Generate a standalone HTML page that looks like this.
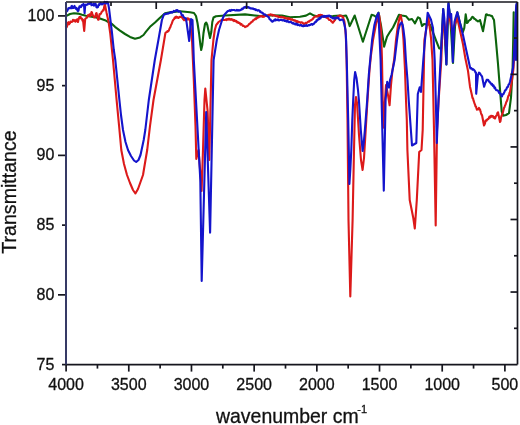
<!DOCTYPE html>
<html><head><meta charset="utf-8"><title>IR spectrum</title>
<style>html,body{margin:0;padding:0;background:#fff;}svg{display:block;filter:blur(0.3px);}</style>
</head><body>
<svg width="520" height="425" viewBox="0 0 520 425">
<g fill="none" stroke-width="2.1" stroke-linejoin="round" stroke-linecap="round">
<polyline stroke="#0c640c" points="66,16.1 70,14 74,13.2 78,13.6 82,14.8 86,15.7 90,16.5 95,17.3 100,18.5 105,20.2 110,23 112,23.9 115,26.8 120,30.7 125,34 130,36.9 135,38.8 140,37.4 143.5,35 146,31.6 150,26.8 155,22.5 160,17.7 165,13.4 170,12.4 180,11.3 190,12.3 194,13 196,16 197.5,23 199,33 200.3,44 201.2,50 202.3,45 203.5,33 205,24 206.2,22.5 207.3,25 208.5,31 210,38 211.3,32 212.3,22 213.5,17.5 216,16.2 225,15.5 245,14.4 260,16.1 270,15.3 282,15.6 290,17.3 300,16.7 306,15.6 310,13.3 314,15.6 318,16.5 325,16.2 333,16 340,15.5 343,16 346,15.5 348,20 349.7,26.1 354.7,15.5 362.9,41.7 371.6,14.8 374,15.5 376,17 378.5,12.7 381,25.4 384.1,46.6 387,36.7 390,31.8 393,27.5 396,21.2 399,14.8 402,15.5 406,16.2 409,19.8 412,19 415,23.3 418,17.3 420,18.4 422,26.1 424,24 430,24.7 433,32.5 436.4,41.3 439.2,48.4 441.2,48.4 443.2,9 446.4,64.5 448.5,3.5 450.3,17.6 453,63 455,26.5 457.3,12.3 460,23 460.7,25.04 461.4,27.54 462.1,29.65 462.8,32 463.55,30.08 464.3,28 465.7,14.4 467,23 467.75,22.35 468.5,21.15 469.25,20.36 470,20 470.83,19.2 471.67,17.67 472.5,16.8 473.33,17.32 474.17,18.66 475,19 475.75,19.58 476.5,20.47 477.25,20.78 478,21.4 479,20.81 480,20 483,31.3 486,14.5 486.8,14.38 487.6,14.93 488.4,15.27 489.2,15.16 490,15.3 491,15.84 492,16 493,18.14 494,20 496,41.3 498,64 501.7,111.4 503,115.8 506,115 509,113.2 511,97.3 512.5,72.6 513.2,40 513.7,12.2"/>
<polyline stroke="#dc1a1a" points="66,26.4 66.5,27.33 67,26.67 67.5,23.02 68,23.9 68.5,22.14 69,24.34 69.5,23.65 70,23.08 70.5,21.5 71,21.8 71.5,21.96 72,21.76 72.5,21.48 73,19.84 73.5,20.56 74,20.24 74.5,21.16 75,20.2 75.5,21.72 76,21.41 76.5,19.87 77,19.37 77.5,19.4 78,22 78.5,19.5 79,18.25 79.5,16.99 80,18.1 80.5,16.78 81,18.55 81.5,18.33 82,18.83 82.5,20.85 83,19.8 84.2,30.9 85.2,19 86,18.1 86.5,17.85 87,17.64 87.5,16.2 88,15.15 88.5,15.84 89,16.1 89.5,14.26 90,14.93 90.5,16 91,14.29 91.5,12.02 92,12.5 92.5,14.74 93,15.31 93.5,16 94,17.48 94.5,17 95,16.89 95.5,15.99 96,13.5 96.5,13 98,19.5 98.5,19.76 99,18.32 99.5,14.22 100,14 100.5,14.26 101,13.53 101.5,12.07 102,11.7 102.5,11 103,9.97 103.5,10.44 104,8 104.8,3.7 106.5,12.4 108.5,21.4 110.2,33 113,60 116.6,100 119,125 121.3,150 124,164 127,175 130,183 133,190 135.4,193.5 138,189 140.5,182 143,175 145,163 147.2,150 150,126 153.5,100 160.9,60 165.4,33 165.95,32.5 166.5,32 167,32.06 167.5,31 168,31.34 168.5,30.96 169,30 169.5,28.7 170,27.59 170.5,26.84 171,25 171.5,24.21 172,22.78 172.5,21.31 173,20.35 173.5,19.5 174.07,19.1 174.65,17.68 175.23,18.05 175.8,16.8 176.35,16.65 176.9,17.73 177.45,17.06 178,17.5 178.5,17.97 179,17.46 179.5,17.01 180,16.86 180.5,16.88 181,16.5 181.5,17.22 182,17.44 182.5,17.89 183,18.92 183.5,19.5 184,20.21 184.5,19.87 185,19.21 185.5,20.35 186,20 186.5,19.92 187,19.77 187.5,18.37 188,18.4 188.5,19.27 189,18.83 189.5,20.19 190,20.5 192,40 193.8,80 195.5,126 196.3,159 198.5,150 200.5,175 201.6,191 203,150 204.5,100 205.3,88.5 207.6,111 209.3,160 211.5,60 213.4,40 214.8,30 216.2,25 218.6,22 221.4,20 225,20 225.5,19.6 226,19.42 226.5,20.08 227,19.03 227.5,19.4 228,19.67 228.5,18.82 229,19 229.5,18.8 230,19.76 230.5,19.36 231,19.86 231.5,19.19 232,19.73 232.5,19.66 233,20.41 233.5,19.85 234,21.05 234.5,20.08 235,20.8 235.5,21.36 236,20.79 236.5,21.35 237,22.3 237.5,21.79 238,22.1 238.5,22.99 239,22.9 239.5,22.77 240,23.6 240.5,24.54 241,23.88 241.5,24.09 242,24.81 242.5,25.49 243,25.99 243.5,25.59 244,26.2 244.5,26.19 245,27.1 245.5,26.69 246,26.72 246.5,26.34 247,26.18 247.5,25.66 248,25.43 248.5,24.9 249,24.27 249.5,23.62 250,23.6 250.5,23.33 251,22.46 251.5,21.74 252,21.7 252.5,21.75 253,20.39 253.5,20.48 254,19.79 254.5,19.48 255,19 255.5,18.34 256,19.09 256.5,18.02 257,18.21 257.5,17.75 258,17.04 258.5,17.46 259,16.73 259.5,16.4 260,16.7 260.5,16.08 261,16.17 261.5,16.04 262,16.62 262.5,16.41 263,16.92 263.5,16.8 264,16.81 264.5,15.84 265,16.1 265.5,15.89 266,15.52 266.5,15.79 267,15.69 267.5,15.76 268,15.51 268.5,14.83 269,14.89 269.5,14.87 270,14.7 270.5,14.22 271,14.38 271.5,14.94 272,14.7 272.5,15.55 273,15.09 273.5,15.04 274,15.25 274.5,15.43 275,15.53 275.5,16.01 276,16.1 276.5,16.16 277,16.07 277.5,16.57 278,16.15 278.5,17.09 279,17.26 279.5,17.07 280,16.82 280.5,17.01 281,17.2 281.5,16.66 282,17.3 282.5,17.31 283,17.54 283.5,17.24 284,17.24 284.5,18.19 285,17.78 285.5,18.07 286,18.66 286.5,18.39 287,18.11 287.5,19.05 288,18.42 288.5,18.1 289,19.01 289.5,18.42 290,19 290.5,18.95 291,19.77 291.5,19.75 292,19.14 292.5,19.85 293,19.98 293.5,20.25 294,20.1 294.5,20.74 295,20.3 295.5,20.73 296,21.02 296.5,21.88 297,21.03 297.5,22.02 298,21.9 298.5,21.65 299,22.23 299.5,22.13 300,22.34 300.5,22.81 301,22.5 301.5,22.3 302,22.42 302.5,22.49 303,23.53 303.5,23.4 304,23.91 304.5,23.71 305,23.6 305.5,22.75 306,23.23 306.5,23.09 307,22.75 307.5,22.2 308,21.75 308.5,21.59 309,21.72 309.5,20.8 310,20.8 310.5,20.42 311,19.95 311.5,20.12 312,19.53 312.5,19.27 313,18.74 313.5,17.69 314,17.2 314.5,17.1 315,16.7 315.5,16.24 316,16.27 316.5,16.4 317,16.52 317.5,15.95 318,16.06 318.5,15.03 319,15.17 319.5,15.77 320,15 320.5,14.73 321,15.2 321.5,14.93 322,15.1 322.5,16.22 323,16.49 323.5,16.23 324,15.75 324.5,16.11 325,16.5 325.5,16.53 326,17.4 326.5,17.77 327,17.83 327.5,18.28 328,18.13 328.5,19 329,19.84 329.5,19.96 330,20 330.5,19.95 331,20.89 331.5,21.56 332,21.44 332.5,22.64 333,22.6 333.5,21.79 334,21.31 334.5,20.18 335,20.13 335.5,19.11 336,18 336.5,17.78 337,16.95 337.5,16.99 338,16.19 338.5,16.55 339,16.58 339.5,15.43 340,15.5 340.5,15.68 341,15.81 341.5,15.89 342,16.42 342.5,16.86 343,16.5 343.5,18.58 344,20.13 344.5,22 345.8,35 346.6,60 347.5,120 348.5,220 350.3,296.5 352.6,220 354,150 355,105 356,97 357,103 359,135 361,160 362.6,170 364,158 365.7,130 367.5,100 369.5,70 371,55 373,40 376,24 379.2,15.5 381,30 382,60 383.2,127.6 385,100 386,85 388,95 389.6,105.3 391,85 392.5,70 394.1,60 396,40 398,25 399.5,18 400.7,15.3 402,22 403.5,40 405,70 406,100 406.8,120 407.4,150 409.7,200 413.3,218 414.8,228.5 416.8,200 419.2,152 421.5,150 422.7,130 424.4,40 428.4,17 430,29.7 431,38 432.5,60 434,130 435.7,225.5 437,130 438.6,101 441.3,60 442,40 443.5,16 444.5,25 445.5,45 446.5,30 448.5,14 450.5,22 452.5,35 454.5,25 457.3,18.3 460,30.6 463,44.3 465.3,58 468,70.9 470,86.7 472,95.6 472.5,97.99 473,98.19 473.5,100.49 474,101.78 474.5,103.46 475,104.4 475.5,106.43 476,106.5 476.5,108.62 477,109.7 477.5,109.06 478,109.13 478.5,109.3 479,107.9 479.5,109.35 480,109.29 480.5,111.38 481,113.06 481.5,114.58 482,115 484,125.5 484.5,124.5 485,123.53 485.5,120.63 486,120.3 486.5,120.74 487,119.86 487.5,119.16 488,119.31 488.5,118.82 489,117.6 489.5,116.5 490,117.63 490.5,117.23 491,115.8 491.5,116.59 492,115.8 492.5,116.42 493,116.08 493.5,117.76 494,116.88 494.5,118.27 495,118.5 495.5,117.34 496,115.94 496.5,115.53 497,114.3 497.5,112.74 498,112.3 500,122 500.5,121.18 501,117.65 501.5,115.76 502,115 502.5,113.2 503,112.12 503.5,109.99 504,107.9 504.5,107.24 505,105.54 505.5,104.75 506,102.9 506.5,101.6 507,100.9 507.5,99.42 508,96.99 508.5,95.61 509,95.47 509.5,92.83 510,92 512,80 513.5,68 514.5,50 515.3,30 516,15"/>
<polyline stroke="#1414cc" points="66,11.5 66.5,9.88 67,11.27 67.5,10.44 68,9.1 68.5,8.09 69,8.44 69.5,7.98 70,7.8 70.5,8.09 71,8.34 71.5,6.26 72,5.95 72.5,8.07 73,7 73.5,6.91 74,7.93 74.5,5.91 75,7.4 75.5,7.65 76,8.82 76.5,7.84 77,9 77.5,10.75 78,11.12 78.5,10.5 79,7.75 79.5,6.3 80,6.2 80.5,6.18 81,7.16 81.5,5.47 82,4.87 82.5,5.32 83,5.4 83.5,3.88 84,5 84.6,13.2 85.2,5.5 85.8,4.49 86.4,4.86 87,4.8 87.5,4.62 88,3.72 88.5,3.55 89,3.35 89.5,3.85 90,3.8 90.5,3.38 91,2.79 91.5,5.25 92,4.62 92.5,5.03 93,4.8 93.5,3.67 94,5.68 94.5,5.06 95,3.8 95.5,3.66 96,5.18 96.5,7.2 97,7.5 97.5,7.27 98,7.07 98.5,4.81 99,4.2 99.5,4.87 100,4.18 100.5,2.9 101,3.2 101.5,3.5 102,4.37 102.5,4.32 103,3.4 103.5,3.29 104,3.4 104.5,1.72 105,2.9 105.5,2.15 106,3.67 106.5,2.56 107,1.85 107.5,2.87 108,2.7 109,8.2 110,16.5 111,24.7 112,33 113.8,50 115.3,60 119.4,100 121,115 123,130 125.5,142 128,150 131,156 134,160.5 136.2,162 138.5,160 140.5,155 142,148 143.7,140 145.3,130 148.8,100 154.8,60 158.4,40 161.9,20 164,14.5 165,14 165.5,14.18 166,14.04 166.5,13.52 167,13.51 167.5,13.51 168,13.79 168.5,13.33 169,13.05 169.5,13.09 170,13 170.53,12.11 171.07,11.89 171.6,12.58 172.13,12.74 172.67,11.96 173.2,11.45 173.73,10.91 174.27,11.14 174.8,11.57 175.33,11.05 175.87,10.49 176.4,10.2 176.91,10.89 177.43,10.2 177.94,10.78 178.46,11.58 178.97,11.24 179.49,11.26 180,11.5 180.6,12.18 181.2,13.57 181.8,15.14 182.4,15.5 182.91,15.22 183.43,16.73 183.94,17.19 184.46,17.7 184.97,17.91 185.49,18.42 186,18.4 189.2,41 191,19 192.5,20 193.8,60 200.3,180 201.7,281 206.2,112 210.1,232.6 213.6,60 216.8,40 219,30 222.1,20 224.2,15 227.8,11 228.34,10.91 228.89,10.85 229.43,10.58 229.98,10.02 230.52,10.89 231.07,10.42 231.61,9.86 232.16,10.12 232.7,10 233.23,10.04 233.76,9.95 234.29,10 234.82,10.29 235.35,10.45 235.88,10.49 236.41,10.37 236.94,9.91 237.47,10.22 238,10.6 238.5,10.03 239,10.33 239.5,10.48 240,10.22 240.5,10.04 241,9.5 241.5,9.62 242,8.69 242.5,9.13 243,8.67 243.5,7.7 244,7.36 244.5,7.1 245,7.73 245.5,6.86 246,6.9 246.5,6.58 247,7.35 247.5,7.16 248,6.98 248.5,7.24 249,7.83 249.5,7.55 250,7.83 250.5,8.5 251,8.35 251.5,8.34 252,8.7 252.5,8.81 253,8.41 253.5,8.99 254,9.17 254.5,9.03 255,9.08 255.5,10.17 256,9.85 256.5,9.63 257,10.24 257.5,10.64 258,10.4 258.5,10.11 259,10.4 259.5,10.85 260,11.82 260.5,11.44 261,12.39 261.5,12.64 262,12.77 262.5,12.67 263,13.3 263.5,14.21 264,14.34 264.5,14.34 265,14.33 265.5,15.18 266,15.21 266.5,15.77 267,15.81 267.5,16.52 268,16.7 268.5,16.77 269,17.66 269.5,19.06 270,19.55 270.5,19.47 271,20.73 271.5,20.67 272,21.5 272.5,21.79 273,21.32 273.5,20.69 274,20.25 274.5,19.72 275,20.53 275.5,19.28 276,19.6 276.5,20.03 277,20.25 277.5,19.83 278,19.41 278.5,20.29 279,20.47 279.5,20.19 280,20.01 280.5,19.9 281,19.92 281.5,19.8 282,20.2 282.5,20.52 283,20.33 283.5,20.15 284,20.15 284.5,20.93 285,20.59 285.5,20.94 286,20.84 286.5,21.6 287,21.74 287.5,20.79 288,21.12 288.5,21.37 289,22.27 289.5,22.13 290,21.9 290.5,21.89 291,21.92 291.5,22.65 292,23.03 292.5,23.32 293,22.8 293.5,23.63 294,23.57 294.5,23.51 295,24.3 295.5,23.58 296,24.35 296.5,23.76 297,24.04 297.5,25.11 298,24.8 298.5,24.54 299,25.28 299.5,25.18 300,25.55 300.5,25.07 301,25.12 301.5,25.15 302,25.93 302.5,25.7 303,26.2 303.5,26.21 304,25.39 304.5,25.98 305,26 305.5,25.41 306,25.22 306.5,25.15 307,25.99 307.5,25.78 308,25.72 308.5,25.02 309,25.24 309.5,25.33 310,24.73 310.5,24.85 311,24.32 311.5,24.04 312,24.15 312.5,24.78 313,24.2 313.5,23.82 314,23.79 314.5,22.77 315,22.09 315.5,22.24 316,21.83 316.5,20.39 317,20.72 317.5,19.57 318,19.6 318.5,18.78 319,19.34 319.5,17.96 320,17.84 320.5,18.37 321,17.33 321.5,16.6 322,16.7 322.5,16.23 323,16.24 323.5,16.77 324,15.92 324.5,16.82 325,16.1 325.5,16.74 326,16.1 326.5,16.6 327,15.88 327.5,15.84 328,16.12 328.5,15.68 329,16.36 329.5,15.64 330,16.2 330.5,15.98 331,17.51 331.5,17.05 332,17.78 332.5,17.97 333,18.4 333.5,18.09 334,17.7 334.5,18.63 335,18.6 335.5,18.51 336,17.39 336.5,17.43 337,17.82 337.5,18.17 338,17.5 338.5,18.23 339,19.08 339.5,19.72 340,20.2 340.5,19.74 341,19.9 341.5,19.44 342,19.5 342.5,19.45 343,20 343.5,21.16 344,23.07 344.5,25 345.5,30 346.1,40 347,70 348.2,120 349,160 349.4,184 350.3,170 351.3,150 352.3,120 353.2,100 354.2,80 355.1,72 356.5,78 358,90 358.9,100 360.8,130 362.6,151 363.8,142 364.9,130 367.2,100 368.8,75 370.2,60 372.1,40 374.4,25 376.5,17 378.4,13 380.6,60 383.8,190.6 385.6,100 387.2,81.8 389.1,87.6 390,80 391.5,75 393,68 394.6,60 397,40 398.4,30 400,24.5 401.6,22.4 402.7,25 403.5,30 404.7,40 405.9,60 407.5,80 408.7,100 412,145.5 416.3,143 417.8,94 419.7,87.2 421,92 423.3,60 425,40 427.7,12.7 431,19.8 433,28 434.7,60 435.8,100 436.8,143 438.5,100 440.6,60 443.2,9 444.3,18 445.5,40 446.4,64.5 447.2,30 448,8 448.5,3 449.2,10 450.3,17.6 451.2,14 452,30 452.8,62 453.6,35 454.5,22 455.5,18 457.3,12.3 460,23 463,35 466,49 470,67.3 470.5,68.47 471,67.81 471.5,68.47 472,68.76 472.5,69.59 473,69.1 473.5,69.49 474,69.92 474.5,70.54 475,71.1 475.5,72.64 476,72.6 476.2,93.8 478,74.4 478.5,74.21 479,72.6 479.5,72.85 480,73.5 480.5,74.48 481,75.14 481.5,75.77 482,76.2 484.1,86.7 484.68,84.84 485.26,83.04 485.84,82.04 486.42,80.33 487,79.7 487.5,80.23 488,79.79 488.5,80.24 489,81.68 489.5,81.49 490,82.3 490.5,83.38 491,83.39 491.5,84.6 492,83.88 492.5,85.05 493,86.13 493.5,85.39 494,86.7 494.5,88.11 495,87.31 495.5,89 496,89.97 496.5,90.28 497,90.3 497.5,90.41 498,90.46 498.5,91.63 499,92.79 499.5,92.09 500,92.9 500.5,94.48 501,94.01 501.5,96.26 502,96.4 502.5,94.54 503,94.04 503.5,94.08 504,92.88 504.5,92.05 505,90.3 505.5,90.31 506,89.54 506.5,88.84 507,87.32 507.5,87.18 508,86.7 508.5,84.78 509,84.49 509.5,83.1 510,81.5 511.5,75 513,68 514,55 514.8,40 515.5,20 516.2,5 516.8,3 516.4,30 516,60"/>
</g>
<g stroke="#16161e" stroke-width="1.7" fill="none">
<line x1="66" y1="2" x2="517.5" y2="2"/>
<line x1="517.5" y1="2" x2="517.5" y2="364.6"/>
<line x1="66" y1="364.6" x2="517.5" y2="364.6"/>
<line x1="66.10" y1="364.6" x2="66.10" y2="371.6"/>
<line x1="97.44" y1="364.6" x2="97.44" y2="368.6"/>
<line x1="128.78" y1="364.6" x2="128.78" y2="371.6"/>
<line x1="160.13" y1="364.6" x2="160.13" y2="368.6"/>
<line x1="191.47" y1="364.6" x2="191.47" y2="371.6"/>
<line x1="222.81" y1="364.6" x2="222.81" y2="368.6"/>
<line x1="254.16" y1="364.6" x2="254.16" y2="371.6"/>
<line x1="285.50" y1="364.6" x2="285.50" y2="368.6"/>
<line x1="316.84" y1="364.6" x2="316.84" y2="371.6"/>
<line x1="348.18" y1="364.6" x2="348.18" y2="368.6"/>
<line x1="379.52" y1="364.6" x2="379.52" y2="371.6"/>
<line x1="410.87" y1="364.6" x2="410.87" y2="368.6"/>
<line x1="442.21" y1="364.6" x2="442.21" y2="371.6"/>
<line x1="473.55" y1="364.6" x2="473.55" y2="368.6"/>
<line x1="504.89" y1="364.6" x2="504.89" y2="371.6"/>
<line x1="111.01" y1="2" x2="111.01" y2="6"/>
<line x1="156.22" y1="2" x2="156.22" y2="9"/>
<line x1="201.43" y1="2" x2="201.43" y2="6"/>
<line x1="246.64" y1="2" x2="246.64" y2="9"/>
<line x1="291.85" y1="2" x2="291.85" y2="6"/>
<line x1="337.06" y1="2" x2="337.06" y2="9"/>
<line x1="382.27" y1="2" x2="382.27" y2="6"/>
<line x1="427.48" y1="2" x2="427.48" y2="9"/>
<line x1="472.69" y1="2" x2="472.69" y2="6"/>
<line x1="517.5" y1="328.32" x2="514.0" y2="328.32"/>
<line x1="517.5" y1="292.04" x2="510.5" y2="292.04"/>
<line x1="517.5" y1="255.76" x2="514.0" y2="255.76"/>
<line x1="517.5" y1="219.48" x2="510.5" y2="219.48"/>
<line x1="517.5" y1="183.20" x2="514.0" y2="183.20"/>
<line x1="517.5" y1="146.92" x2="510.5" y2="146.92"/>
<line x1="517.5" y1="110.64" x2="514.0" y2="110.64"/>
<line x1="517.5" y1="74.36" x2="510.5" y2="74.36"/>
<line x1="517.5" y1="38.08" x2="514.0" y2="38.08"/>
<line x1="66" y1="15.90" x2="58" y2="15.90"/>
<line x1="66" y1="85.64" x2="62" y2="85.64"/>
<line x1="66" y1="155.38" x2="58" y2="155.38"/>
<line x1="66" y1="225.12" x2="62" y2="225.12"/>
<line x1="66" y1="294.86" x2="58" y2="294.86"/>
<line x1="66" y1="364.60" x2="62" y2="364.60"/>
</g>
<line x1="66" y1="2" x2="66" y2="364.6" stroke="#363a66" stroke-width="2"/>
<g font-family="&quot;Liberation Sans&quot;, Arial, sans-serif" font-size="16" fill="#111" stroke="#111" stroke-width="0.3">
<text x="54.3" y="20.80" text-anchor="end">100</text>
<text x="54.3" y="90.54" text-anchor="end">95</text>
<text x="54.3" y="160.28" text-anchor="end">90</text>
<text x="54.3" y="230.02" text-anchor="end">85</text>
<text x="54.3" y="299.76" text-anchor="end">80</text>
<text x="54.3" y="369.50" text-anchor="end">75</text>
<text x="66.10" y="389.9" text-anchor="middle">4000</text>
<text x="128.78" y="389.9" text-anchor="middle">3500</text>
<text x="191.47" y="389.9" text-anchor="middle">3000</text>
<text x="254.16" y="389.9" text-anchor="middle">2500</text>
<text x="316.84" y="389.9" text-anchor="middle">2000</text>
<text x="379.52" y="389.9" text-anchor="middle">1500</text>
<text x="442.21" y="389.9" text-anchor="middle">1000</text>
<text x="504.89" y="389.9" text-anchor="middle">500</text>
</g>
<text transform="translate(16.3,192) rotate(-90)" text-anchor="middle" font-family="&quot;Liberation Sans&quot;, Arial, sans-serif" font-size="19.6" fill="#111" stroke="#111" stroke-width="0.3">Transmittance</text>
<text x="216" y="423" font-family="&quot;Liberation Sans&quot;, Arial, sans-serif" font-size="19.45" fill="#111" stroke="#111" stroke-width="0.3">wavenumber cm</text><text x="357.3" y="413" font-family="&quot;Liberation Sans&quot;, Arial, sans-serif" font-size="11" fill="#111" stroke="#111" stroke-width="0.3">-1</text>
</svg>
</body></html>
